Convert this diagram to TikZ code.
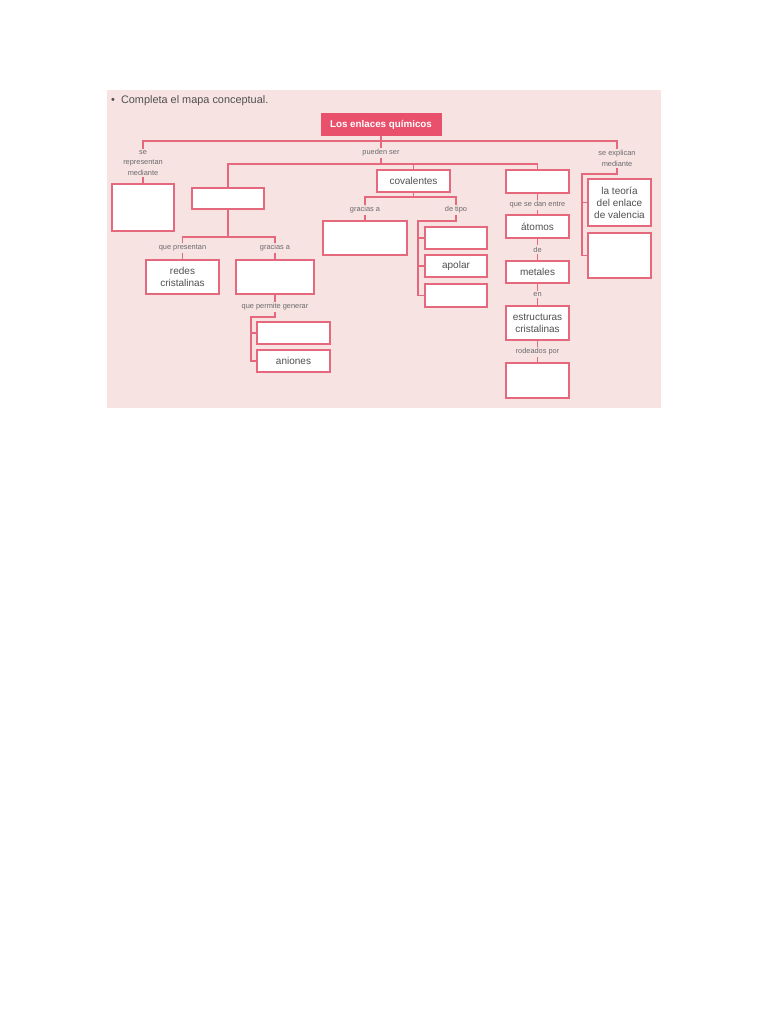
\documentclass[tikz,border=0pt]{standalone}
\usepackage{fontspec}
\setmainfont{Liberation Sans}
\definecolor{bgc}{HTML}{F8E3E3}
\definecolor{lnc}{HTML}{E5687D}
\definecolor{mainc}{HTML}{E8506B}
\definecolor{txc}{HTML}{505050}
\definecolor{lbc}{HTML}{6A6A6A}
\begin{document}
\begin{tikzpicture}[x=1pt,y=-1pt,
  conn/.style={draw=lnc,line width=1.1pt},
  bx/.style={draw=lnc,fill=white,line width=1.2pt,inner sep=0pt,align=center,
    text=txc,font=\fontsize{10}{12}\selectfont},
  lab/.style={inner sep=1.5pt,align=center,text=lbc,font=\fontsize{7.4}{10.5}\selectfont},
  mainbox/.style={fill=mainc,inner sep=0pt,text=white,font=\fontsize{9.8}{11}\selectfont\bfseries}]
\useasboundingbox (0,0) rectangle (768,1024);
\fill[bgc] (107,90) rectangle (661,408);
\node[anchor=west,text=txc,font=\fontsize{10.9}{12}\selectfont,inner sep=0pt] (title) at (111,101) {\textbullet\ \ Completa el mapa conceptual.};

% main
\node[mainbox,minimum width=121pt,minimum height=23pt] (main) at (381,124.5) {Los enlaces químicos};
\coordinate (t0) at (381,141);
\coordinate (tl) at (143,141);
\coordinate (tr) at (617,141);

% labels level 1
\node[lab] (l1) at (143,163) {se\\representan\\mediante};
\node[lab] (l2) at (381,153) {pueden ser};
\node[lab] (l3) at (617,158.5) {se explican\\mediante};

\draw[conn] (main.south) -- (t0);
\draw[conn] (l1.north) |- (tl) -- (tr) -- (l3.north);
\draw[conn] (t0) -- (l2.north);

% level 1 boxes
\node[bx,minimum width=62pt,minimum height=47pt] (rep) at (143,207.5) {};
\node[bx,minimum width=72pt,minimum height=21pt] (ion) at (228,198.5) {};
\node[bx,minimum width=73pt,minimum height=22pt] (cov) at (413.5,181) {covalentes};
\node[bx,minimum width=63pt,minimum height=23pt] (met) at (537.5,181.5) {};
\node[bx,minimum width=63pt,minimum height=47pt] (teo) at (619.5,202.5) {la teoría\\del enlace\\de valencia};
\node[bx,minimum width=63pt,minimum height=45pt] (val) at (619.5,255.5) {};

\draw[conn] (l1.south) -- (rep.north);
\coordinate (s0) at (381,164);
\draw[conn] (l2.south) -- (s0);
\draw[conn] (ion.north) |- (s0) -| (met.north);
\draw[conn] (cov.north) -- (cov.north |- s0);

% right bracket
\coordinate (rj) at (617,174);
\coordinate (rb) at (582,174);
\draw[conn] (l3.south) -- (rj) -- (rb) |- (val.west);
\draw[conn] (rb) |- (teo.west);

% ionic branch
\coordinate (ij) at (228,237);
\node[lab] (lp) at (182.5,248) {que presentan};
\node[lab] (lg) at (275,248) {gracias a};
\node[bx,minimum width=73pt,minimum height=34pt] (redes) at (182.5,277) {redes\\cristalinas};
\node[bx,minimum width=78pt,minimum height=34pt] (gra) at (275,277) {};
\draw[conn] (ion.south) -- (ij);
\draw[conn] (lp.north) |- (ij) -| (lg.north);
\draw[conn] (lp.south) -- (redes.north);
\draw[conn] (lg.south) -- (gra.north);
\node[lab] (lq) at (275,307) {que permite generar};
\draw[conn] (gra.south) -- (lq.north);
\node[bx,minimum width=73pt,minimum height=22pt] (i1) at (293.5,333) {};
\node[bx,minimum width=73pt,minimum height=22pt] (i2) at (293.5,361) {aniones};
\coordinate (qj) at (275,317);
\coordinate (qb) at (251,317);
\draw[conn] (lq.south) -- (qj) -- (qb) |- (i2.west);
\draw[conn] (qb) |- (i1.west);

% covalent branch
\coordinate (cj) at (413.5,197);
\node[lab] (cg) at (365,210) {gracias a};
\node[lab] (ct) at (456,210) {de tipo};
\draw[conn] (cov.south) -- (cj);
\draw[conn] (cg.north) |- (cj) -| (ct.north);
\node[bx,minimum width=84pt,minimum height=34pt] (cga) at (365,238) {};
\draw[conn] (cg.south) -- (cga.north);
\node[bx,minimum width=62pt,minimum height=22pt] (t1) at (456,238) {};
\node[bx,minimum width=62pt,minimum height=22pt] (t2) at (456,266) {apolar};
\node[bx,minimum width=62pt,minimum height=23pt] (t3) at (456,295.5) {};
\coordinate (tj) at (456,221);
\coordinate (tb) at (418,221);
\draw[conn] (ct.south) -- (tj) -- (tb) |- (t3.west);
\draw[conn] (tb) |- (t1.west);
\draw[conn] (tb) |- (t2.west);

% metallic column
\node[lab] (m1) at (537.5,205) {que se dan entre};
\node[bx,minimum width=63pt,minimum height=23pt] (ato) at (537.5,226.5) {átomos};
\node[lab] (m2) at (537.5,249.5) {de};
\node[bx,minimum width=63pt,minimum height=22pt] (metl) at (537.5,272) {metales};
\node[lab] (m3) at (537.5,294.5) {en};
\node[bx,minimum width=63pt,minimum height=34pt] (est) at (537.5,323) {estructuras\\cristalinas};
\node[lab] (m4) at (537.5,352) {rodeados por};
\node[bx,minimum width=63pt,minimum height=35pt] (rod) at (537.5,380.5) {};
\draw[conn] (met.south) -- (m1.north);
\draw[conn] (m1.south) -- (ato.north);
\draw[conn] (ato.south) -- (m2.north);
\draw[conn] (m2.south) -- (metl.north);
\draw[conn] (metl.south) -- (m3.north);
\draw[conn] (m3.south) -- (est.north);
\draw[conn] (est.south) -- (m4.north);
\draw[conn] (m4.south) -- (rod.north);
\end{tikzpicture}
\end{document}
